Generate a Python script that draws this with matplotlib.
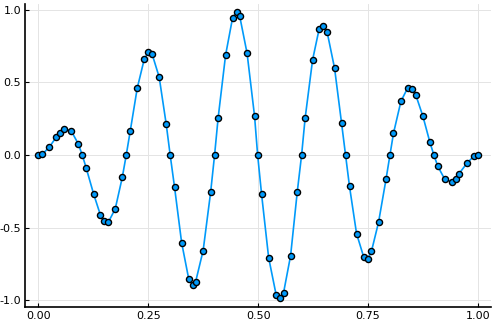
import matplotlib
matplotlib.use("Agg")
import matplotlib.pyplot as plt
import numpy as np

# points (adaptive sampling of a damped wave)
x = [0.000, 0.009, 0.025, 0.041, 0.049, 0.059, 0.075, 0.091, 0.100, 0.109,
     0.126, 0.141, 0.150, 0.159, 0.175, 0.191, 0.200, 0.209, 0.225, 0.241,
     0.250, 0.259, 0.275, 0.291, 0.300, 0.310, 0.326, 0.342, 0.351, 0.358,
     0.375, 0.392, 0.401, 0.409, 0.426, 0.442, 0.451, 0.458, 0.475, 0.492,
     0.499, 0.508, 0.524, 0.541, 0.549, 0.558, 0.574, 0.589, 0.599, 0.607,
     0.624, 0.639, 0.648, 0.657, 0.674, 0.690, 0.699, 0.708, 0.724, 0.740,
     0.750, 0.758, 0.774, 0.791, 0.800, 0.808, 0.825, 0.840, 0.850, 0.859,
     0.875, 0.891, 0.900, 0.909, 0.925, 0.941, 0.950, 0.957, 0.975, 0.991,
     1.000]
y = [0.000, 0.005, 0.055, 0.124, 0.154, 0.180, 0.166, 0.076, 0.000, -0.090,
     -0.270, -0.410, -0.455, -0.464, -0.370, -0.154, 0.000, 0.163, 0.460, 0.660,
     0.708, 0.694, 0.536, 0.212, 0.000, -0.223, -0.602, -0.850, -0.892, -0.871,
     -0.657, -0.257, 0.000, 0.253, 0.687, 0.945, 0.984, 0.959, 0.700, 0.267,
     0.000, -0.271, -0.706, -0.961, -0.986, -0.947, -0.692, -0.257, 0.000, 0.253,
     0.655, 0.869, 0.890, 0.848, 0.598, 0.218, 0.000, -0.216, -0.540, -0.699,
     -0.713, -0.662, -0.464, -0.168, 0.000, 0.149, 0.370, 0.460, 0.453, 0.412,
     0.267, 0.087, 0.000, -0.078, -0.168, -0.184, -0.163, -0.129, -0.057, -0.007,
     0.000]

xticks = [0.0, 0.25, 0.5, 0.75, 1.0]
yticks = [-1.0, -0.5, 0.0, 0.5, 1.0]

blue = "#009AFA"

fig = plt.figure(figsize=(4.93, 3.22), dpi=100)
ax = fig.add_axes([0.051, 0.047, 0.945, 0.942])

ax.plot(x, y, color=blue, lw=1.2, marker="o", ms=4.4, mfc=blue,
        mec="black", mew=1.0, zorder=3)

ax.set_xlim(-0.03, 1.03)
ax.set_ylim(-1.045, 1.043)
ax.set_xticks(xticks)
ax.set_xticklabels(["%.2f" % t for t in xticks])
ax.set_yticks(yticks)
ax.set_yticklabels(["%.1f" % t for t in yticks])

ax.grid(True, color="#e4e4e4", lw=0.7)
ax.set_axisbelow(True)
for s in ["top", "right"]:
    ax.spines[s].set_visible(False)
for s in ["left", "bottom"]:
    ax.spines[s].set_linewidth(1.2)
ax.tick_params(direction="in", length=3, width=0.8, labelsize=8,
               colors="black", pad=3)

fig.savefig("out.png", dpi=100)
